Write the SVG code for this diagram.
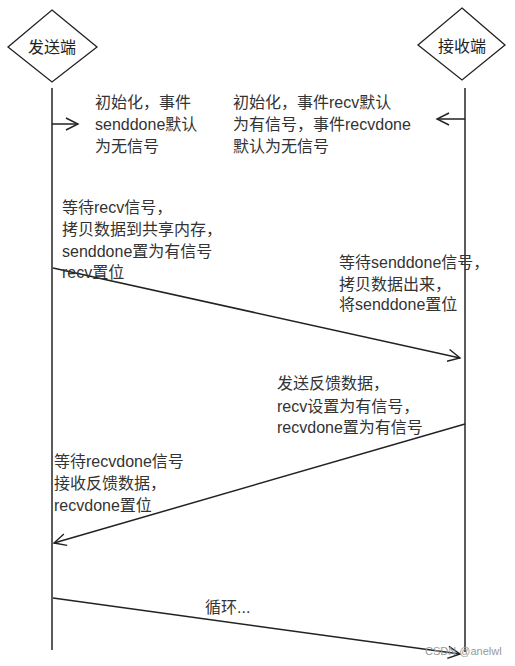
<svg xmlns="http://www.w3.org/2000/svg" width="515" height="666" viewBox="0 0 515 666">
<style>
.shape{fill:#fff;stroke:#222;stroke-width:1.3}
.life{stroke:#333;stroke-width:1.6;fill:none}
.conn{stroke:#222;stroke-width:1.5;fill:none}
.t{font-family:"Liberation Sans","Noto Sans CJK SC",sans-serif;font-size:16px;fill:#333}
.ht{font-family:"Liberation Sans","Noto Sans CJK SC",sans-serif;font-size:16px;fill:#222;text-anchor:middle}
.wm{font-family:"Liberation Sans","Noto Sans CJK SC",sans-serif;font-size:11px;fill:#999}
</style>
<defs>
<marker id="arr" markerWidth="16" markerHeight="16" refX="13" refY="8" orient="auto" markerUnits="userSpaceOnUse">
<path d="M1,2 L13,8 L1,14" fill="none" stroke="#222" stroke-width="1.4"/>
</marker>
</defs>
<rect width="515" height="666" fill="#fff"/>
<g id="sender">
<polygon class="shape" points="52,10 97,47 52,82 8,47"/>
<text class="ht" x="52" y="53">发送端</text>
</g>
<g id="receiver">
<polygon class="shape" points="462,8 505,45 462,80 418,45"/>
<text class="ht" x="462" y="52">接收端</text>
</g>
<g id="lifelines">
<line class="life" x1="52" y1="88" x2="52" y2="650"/>
<line class="life" x1="465" y1="88" x2="465" y2="652"/>
</g>
<g id="connectors">
<line class="conn" x1="52" y1="124" x2="78" y2="124" marker-end="url(#arr)"/>
<line class="conn" x1="465" y1="119" x2="437" y2="119" marker-end="url(#arr)"/>
<line class="conn" x1="53" y1="268" x2="460" y2="358" marker-end="url(#arr)"/>
<line class="conn" x1="465" y1="424" x2="54" y2="543" marker-end="url(#arr)"/>
<line class="conn" x1="53" y1="598" x2="460" y2="654" marker-end="url(#arr)"/>
</g>
<g id="label-sender-init">
<text class="t" x="95" y="108">初始化，事件</text>
<text class="t" x="95" y="130">senddone默认</text>
<text class="t" x="95" y="152">为无信号</text>
</g>
<g id="label-recv-init">
<text class="t" x="233" y="108">初始化，事件recv默认</text>
<text class="t" x="233" y="130">为有信号，事件recvdone</text>
<text class="t" x="233" y="152">默认为无信号</text>
</g>
<g id="label-send">
<text class="t" x="62" y="213">等待recv信号，</text>
<text class="t" x="62" y="235">拷贝数据到共享内存，</text>
<text class="t" x="62" y="257">senddone置为有信号</text>
<text class="t" x="62" y="278">recv置位</text>
</g>
<g id="label-recv">
<text class="t" x="339" y="268">等待senddone信号，</text>
<text class="t" x="339" y="290">拷贝数据出来，</text>
<text class="t" x="339" y="310">将senddone置位</text>
</g>
<g id="label-feedback">
<text class="t" x="277" y="389">发送反馈数据，</text>
<text class="t" x="277" y="412">recv设置为有信号，</text>
<text class="t" x="277" y="433">recvdone置为有信号</text>
</g>
<g id="label-recvdone">
<text class="t" x="54" y="467">等待recvdone信号</text>
<text class="t" x="54" y="489">接收反馈数据，</text>
<text class="t" x="54" y="511">recvdone置位</text>
</g>
<g id="label-loop">
<text class="t" x="205" y="613">循环...</text>
</g>
<text class="wm" x="425" y="655">CSDN @anelwl</text>
</svg>
